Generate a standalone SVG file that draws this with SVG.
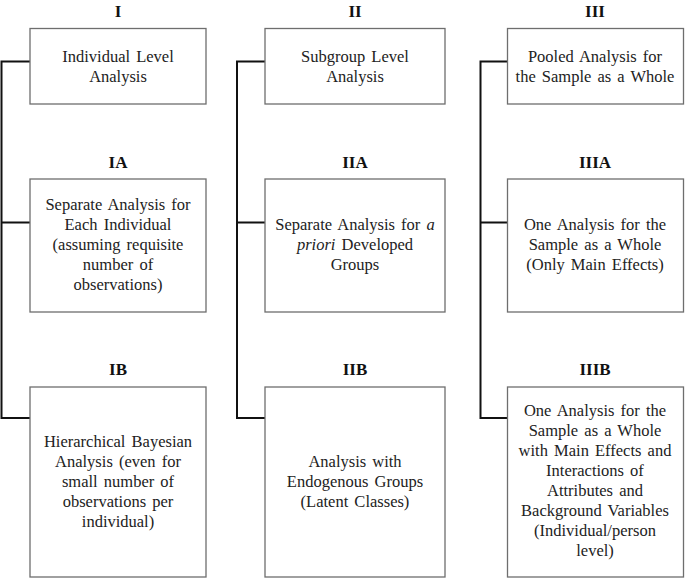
<svg xmlns="http://www.w3.org/2000/svg" width="685" height="578" viewBox="0 0 685 578">
<style>
.box{fill:#fff;stroke:#6e6e6e;stroke-width:1.3}
.t{font-family:"Liberation Serif","Times New Roman",serif;font-size:16.5px;word-spacing:2px;fill:#222;text-anchor:middle}
.h{font-family:"Liberation Serif","Times New Roman",serif;font-size:17px;font-weight:bold;fill:#111;text-anchor:middle}
.c{fill:none;stroke:#111;stroke-width:2}
</style>
<rect width="685" height="578" fill="#fff"/>
<g id="connectors">
<path class="c" d="M30,61.5 H1.5 V418 H30 M1.5,222.5 H30"/>
<path class="c" d="M265,61.5 H237 V418 H265 M237,222.5 H265"/>
<path class="c" d="M507.5,61.5 H480.5 V418 H507.5 M480.5,222.5 H507.5"/>
</g>
<g id="node-I">
<text class="h" x="118" y="17">I</text>
<rect class="box" x="30" y="28.5" width="176" height="75.5"/>
<text class="t" x="118" y="62">Individual Level</text>
<text class="t" x="118" y="82">Analysis</text>
</g>
<g id="node-IA">
<text class="h" x="118" y="168">IA</text>
<rect class="box" x="30" y="179" width="176" height="133"/>
<text class="t" x="118" y="210">Separate Analysis for</text>
<text class="t" x="118" y="230">Each Individual</text>
<text class="t" x="118" y="250">(assuming requisite</text>
<text class="t" x="118" y="270">number of</text>
<text class="t" x="118" y="290">observations)</text>
</g>
<g id="node-IB">
<text class="h" x="118" y="375">IB</text>
<rect class="box" x="30" y="387" width="176" height="190"/>
<text class="t" x="118" y="447">Hierarchical Bayesian</text>
<text class="t" x="118" y="467">Analysis (even for</text>
<text class="t" x="118" y="487">small number of</text>
<text class="t" x="118" y="507">observations per</text>
<text class="t" x="118" y="527">individual)</text>
</g>
<g id="node-II">
<text class="h" x="355" y="17">II</text>
<rect class="box" x="265" y="28.5" width="180" height="75.5"/>
<text class="t" x="355" y="62">Subgroup Level</text>
<text class="t" x="355" y="82">Analysis</text>
</g>
<g id="node-IIA">
<text class="h" x="355" y="168">IIA</text>
<rect class="box" x="265" y="179" width="180" height="133"/>
<text class="t" x="355" y="230">Separate Analysis for <tspan font-style="italic">a</tspan></text>
<text class="t" x="355" y="250"><tspan font-style="italic">priori</tspan> Developed</text>
<text class="t" x="355" y="270">Groups</text>
</g>
<g id="node-IIB">
<text class="h" x="355" y="375">IIB</text>
<rect class="box" x="265" y="387" width="180" height="190"/>
<text class="t" x="355" y="467">Analysis with</text>
<text class="t" x="355" y="487">Endogenous Groups</text>
<text class="t" x="355" y="507">(Latent Classes)</text>
</g>
<g id="node-III">
<text class="h" x="595" y="17">III</text>
<rect class="box" x="507.5" y="28.5" width="176" height="75.5"/>
<text class="t" x="595" y="62">Pooled Analysis for</text>
<text class="t" x="595" y="82">the Sample as a Whole</text>
</g>
<g id="node-IIIA">
<text class="h" x="595" y="168">IIIA</text>
<rect class="box" x="507.5" y="179" width="176" height="133"/>
<text class="t" x="595" y="230">One Analysis for the</text>
<text class="t" x="595" y="250">Sample as a Whole</text>
<text class="t" x="595" y="270">(Only Main Effects)</text>
</g>
<g id="node-IIIB">
<text class="h" x="595" y="375">IIIB</text>
<rect class="box" x="507.5" y="387" width="176" height="190"/>
<text class="t" x="595" y="416">One Analysis for the</text>
<text class="t" x="595" y="436">Sample as a Whole</text>
<text class="t" x="595" y="456">with Main Effects and</text>
<text class="t" x="595" y="476">Interactions of</text>
<text class="t" x="595" y="496">Attributes and</text>
<text class="t" x="595" y="516">Background Variables</text>
<text class="t" x="595" y="536">(Individual/person</text>
<text class="t" x="595" y="556">level)</text>
</g>
</svg>
